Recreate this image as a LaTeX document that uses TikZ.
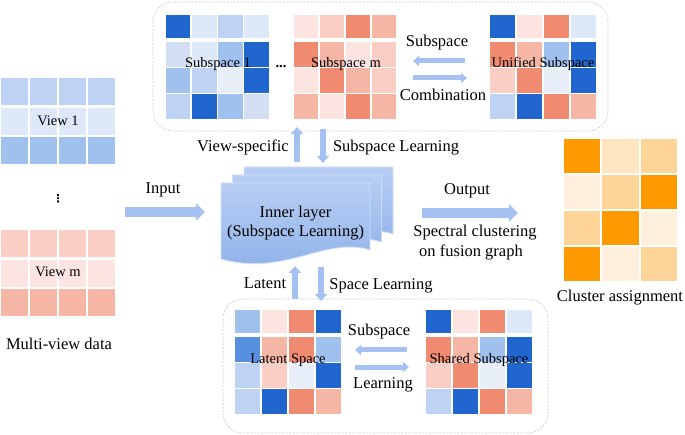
\documentclass[tikz,border=0pt]{standalone}
\usepackage{fontspec}
\setmainfont{Liberation Serif}
\newfontfamily\dejavu{DejaVu Sans}
\usetikzlibrary{arrows.meta}
\definecolor{B1}{RGB}{33,102,206}
\definecolor{B2}{RGB}{88,144,224}
\definecolor{B3}{RGB}{160,192,238}
\definecolor{B4}{RGB}{190,211,243}
\definecolor{B5}{RGB}{211,221,243}
\definecolor{B6}{RGB}{221,232,249}
\definecolor{B7}{RGB}{233,239,249}
\definecolor{R1}{RGB}{240,138,112}
\definecolor{R2}{RGB}{246,182,165}
\definecolor{R3}{RGB}{250,206,196}
\definecolor{R4}{RGB}{252,229,224}
\definecolor{O1}{RGB}{255,153,0}
\definecolor{O2}{RGB}{255,212,152}
\definecolor{O3}{RGB}{255,228,192}
\definecolor{O4}{RGB}{255,240,222}
\definecolor{arrowblue}{RGB}{164,193,242}
\definecolor{docTop}{RGB}{184,206,244}
\definecolor{docBot}{RGB}{140,176,232}
\definecolor{docEdge}{RGB}{208,223,248}
\definecolor{boxgray}{RGB}{200,200,200}

\newcommand\subgrid[4]{%
 \foreach \col [count=\k from 0] in {#4} {
   \pgfmathtruncatemacro\rr{int(\k/4)}
   \pgfmathtruncatemacro\cc{mod(\k,4)}
   \pgfmathsetmacro\yt{{0,27.5,53.5,79.5}[\rr]}
   \pgfmathsetmacro\hh{\rr==0?25:26}
   \fill[fill=\col] ({#1+\cc*#3+0.75},{#2+\yt+0.75}) rectangle ({#1+(\cc+1)*#3-0.75},{#2+\yt+\hh-0.75});
 }}
\newcommand\viewgrid[3]{%
 \foreach \col [count=\rr from 0] in {#3} {
   \pgfmathsetmacro\yt{{0,30.5,59.5}[\rr]}
   \foreach \cc in {0,1,2,3} {
     \fill[fill=\col] ({#1+\cc*29+0.75},{#2+\yt+0.75}) rectangle ({#1+(\cc+1)*29-0.75},{#2+\yt+28.5-0.75});
   }
 }}
\newcommand\docpath{(221,183) -- (370,183) -- (370,250) .. controls (325,236) and (285,277) .. (221,259) -- cycle}

\tikzset{
  lbl/.style={font=\fontsize{16.5}{19}\selectfont, inner sep=0pt, text height=11pt, text depth=3.5pt},
  glbl/.style={font=\fontsize{14.5}{17}\selectfont, inner sep=0pt, text height=10pt, text depth=3pt},
  dbox/.style={draw=boxgray, dash pattern=on 2pt off 1.5pt, line width=0.6pt, rounded corners=20pt},
  docsheet/.style={top color=docTop, bottom color=docBot, draw=docEdge, line width=0.9pt},
  bigarrow/.style={draw=arrowblue, line width=10pt, -{Triangle[width=17pt,length=9pt]}},
  varrow/.style={draw=arrowblue, line width=6.5pt, -{Triangle[width=12pt,length=7pt]}},
  tarrow/.style={draw=arrowblue, line width=5pt, -{Triangle[width=10pt,length=6pt]}}
}

\begin{document}
\begin{tikzpicture}[x=1pt,y=-1pt]
\useasboundingbox (0,0) rectangle (685,435);
\fill[white] (0,0) rectangle (685,435);

% dashed frames
\draw[dbox] (153,2) rectangle (608,131);
\draw[dbox] (223,299) rectangle (548,433);

% multi-view data
\viewgrid{0}{77}{B4,B6,B3}
\viewgrid{0}{229}{R3,R4,R2}
\node[glbl] (v1) at (58,122) {View 1};
\node[glbl] (vm) at (58,273) {View m};
\node[font=\dejavu\bfseries\fontsize{11}{12}\selectfont, inner sep=0pt] (vd) at (58,199) {⋮};
\node[lbl] (mvd) at (59,346) {Multi-view data};

% top subspaces
\subgrid{165}{14}{26.2}{B1,B6,B4,B6, B5,B6,B3,B1, B3,B4,B7,B1, B4,B1,B3,B5}
\subgrid{293}{14}{26}{R4,R3,R1,R2, R1,R2,R4,R3, R4,R1,R2,R3, R2,R4,R1,R2}
\subgrid{489}{14}{27}{B1,R4,R1,B6, R1,R2,B3,B1, R3,R1,B7,B1, B4,B1,R1,R2}
\node[glbl] (s1) at (218,64) {Subspace 1};
\node[glbl, font=\bfseries\fontsize{14.5}{17}\selectfont] (sdots) at (281,64) {...};
\node[glbl] (sm) at (346,64) {Subspace m};
\node[glbl] (us) at (543,64) {Unified Subspace};
\node[lbl] (tsub) at (437,43) {Subspace};
\node[lbl] (tcomb) at (443,97) {Combination};
\coordinate (tl1) at (465,61); \coordinate (tl2) at (413,61);
\coordinate (tr1) at (413,78); \coordinate (tr2) at (467,78);
\draw[tarrow] (tl1) -- (tl2);
\draw[tarrow] (tr1) -- (tr2);

% inner layer stack
\path[docsheet, shift={(23,-16)}] \docpath;
\path[docsheet, shift={(11.5,-8)}] \docpath;
\path[docsheet] \docpath;
\node[lbl, align=center, text height=, text depth=] (inner) at (295.5,223) {Inner layer\\(Subspace Learning)};

% vertical arrows top
\coordinate (ua1) at (297,162); \coordinate (ua2) at (297,127);
\coordinate (da1) at (323,129); \coordinate (da2) at (323,163);
\draw[varrow] (ua1) -- (ua2);
\draw[varrow] (da1) -- (da2);
\node[lbl] (vs) at (243,148) {View-specific};
\node[lbl] (sl) at (396,148) {Subspace Learning};

% input / output
\node[lbl] (inp) at (163,190) {Input};
\coordinate (in1) at (125,212); \coordinate (in2) at (205,212);
\draw[bigarrow] (in1) -- (in2);
\node[lbl] (outp) at (467,191) {Output};
\coordinate (out1) at (422,213); \coordinate (out2) at (518,213);
\draw[bigarrow] (out1) -- (out2);
\node[lbl] (sc1) at (475,233) {Spectral clustering};
\node[lbl] (sc2) at (471,253) {on fusion graph};

% vertical arrows bottom
\coordinate (ub1) at (295,299); \coordinate (ub2) at (295,266);
\coordinate (db1) at (321,267); \coordinate (db2) at (321,301);
\draw[varrow] (ub1) -- (ub2);
\draw[varrow] (db1) -- (db2);
\node[lbl] (lat) at (265,285) {Latent};
\node[lbl] (spl) at (381,286) {Space Learning};

% bottom subspaces
\subgrid{234}{309}{27}{B3,R4,R1,B1, B2,R2,R1,B3, B4,R3,B7,B1, B4,B1,R1,R2}
\subgrid{425}{309}{27}{B1,R4,R1,B6, R1,R2,B3,B1, R3,R1,B7,B1, B4,B1,R1,R2}
\node[glbl] (ls) at (288,360) {Latent Space};
\node[glbl] (ss) at (479,360) {Shared Subspace};
\node[lbl] (bsub) at (379,332) {Subspace};
\node[lbl] (blearn) at (383,385) {Learning};
\coordinate (bl1) at (407,350); \coordinate (bl2) at (355,350);
\coordinate (br1) at (355,367); \coordinate (br2) at (409,367);
\draw[tarrow] (bl1) -- (bl2);
\draw[tarrow] (br1) -- (br2);

% cluster assignment
\foreach \col [count=\k from 0] in {O1,O3,O2, O4,O2,O1, O2,O1,O4, O1,O4,O2} {
  \pgfmathtruncatemacro\rr{int(\k/3)}
  \pgfmathtruncatemacro\cc{mod(\k,3)}
  \fill[fill=\col] ({563+\cc*38.3+1},{138+\rr*36+1.2}) rectangle ({563+(\cc+1)*38.3-1},{138+(\rr+1)*36-1.2});
}
\node[lbl] (ca) at (620,298) {Cluster assignment};
\end{tikzpicture}
\end{document}
